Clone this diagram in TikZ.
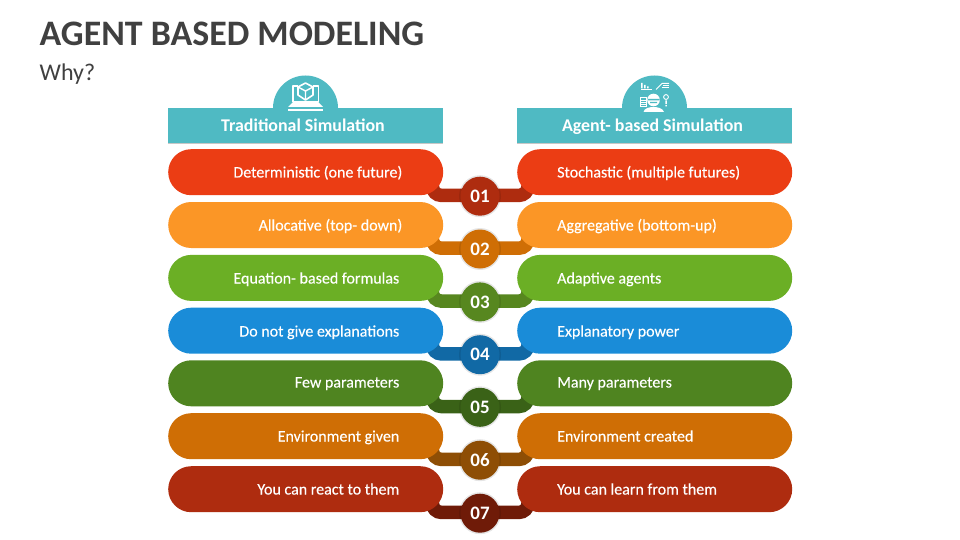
\documentclass[tikz,border=0pt]{standalone}
\usepackage{fontspec}
\setmainfont{Carlito}
\newfontfamily\medfont[FakeBold=0.25]{Carlito}
\usetikzlibrary{calc}
\pgfdeclarelayer{paper}
\pgfdeclarelayer{bands}
\pgfsetlayers{paper,bands,main}
\definecolor{teal1}{HTML}{4FBAC3}
\definecolor{ink}{HTML}{404040}
\definecolor{c1}{HTML}{EB3D14}\definecolor{d1}{HTML}{AE2C0F}
\definecolor{c2}{HTML}{FB9626}\definecolor{d2}{HTML}{CF6E05}
\definecolor{c3}{HTML}{6BAF25}\definecolor{d3}{HTML}{57871F}
\definecolor{c4}{HTML}{1A8CD8}\definecolor{d4}{HTML}{1169A5}
\definecolor{c5}{HTML}{4F8420}\definecolor{d5}{HTML}{3A6217}
\definecolor{c6}{HTML}{CF6E05}\definecolor{d6}{HTML}{8E4E05}
\definecolor{c7}{HTML}{AE2C0F}\definecolor{d7}{HTML}{6F1B08}
\tikzset{
  pill/.style={rounded corners=23pt,minimum width=275pt,minimum height=46pt,inner sep=0pt,anchor=north west},
  itemtext/.style={text=white,font=\medfont\fontsize{16pt}{18pt}\selectfont,inner sep=0pt},
  numdisc/.style={circle,minimum size=39pt,inner sep=0pt,text=white,font=\bfseries\fontsize{19pt}{20pt}\selectfont},
  band/.style={line width=13.5pt,line cap=butt},
  header/.style={fill=teal1,minimum width=275pt,minimum height=35pt,inner sep=0pt,anchor=north west},
  headtext/.style={anchor=base,text=white,inner sep=0pt,font=\bfseries\fontsize{17.9pt}{20pt}\selectfont},
  ico/.style={draw=white,line width=1.3pt,line join=round}
}
\begin{document}
\begin{tikzpicture}[x=1pt,y=-1pt]
\begin{pgfonlayer}{paper}
\path[fill=white,use as bounding box] (0,0) rectangle (960,540);
\end{pgfonlayer}
\node[anchor=base west,inner sep=0pt,text=ink,font=\bfseries\fontsize{35.85pt}{40pt}\selectfont] (title) at (39.5,46) {AGENT BASED MODELING};
\node[anchor=base west,inner sep=0pt,text=ink,font=\fontsize{24pt}{28pt}\selectfont] (sub) at (39.5,81) {Why?};
% header domes
\fill[teal1] (273,108) arc[start angle=180,end angle=360,radius=32.5] -- cycle;
\fill[teal1] (622,108) arc[start angle=180,end angle=360,radius=32.5] -- cycle;
% header shadows
\fill[black,opacity=.22] (168,143) rectangle (443,144.3);
\fill[black,opacity=.22] (517,143) rectangle (792,144.3);
\node[header] (hl) at (168,108) {};
\node[header] (hr) at (517,108) {};
\node[headtext] (hlt) at (303,131.5) {Traditional Simulation};
\node[headtext] (hrt) at (652.5,131.5) {Agent- based Simulation};
% left icon: laptop and cube
\draw[ico,line width=1.8pt] (298,86) -- (293,86) -- (293,102) -- (318.5,102) -- (318.5,86) -- (313,86);
\fill[white] (292,103) -- (319,103) -- (323,107) -- (288,107) -- cycle;
\fill[white] (288,109.3) rectangle (323,110.6);
\draw[ico,line width=1.6pt] (305.5,83) -- (313,87) -- (313,95) -- (305.5,100) -- (298,95) -- (298,87) -- cycle;
\draw[ico,line width=1.4pt] (298,87) -- (305.5,91) -- (313,87) (305.5,91) -- (305.5,100);
% right icon: analyst
\fill[white] (641,83) rectangle (642.5,88.5) (644,85) rectangle (645.5,88.5) (647,86.5) rectangle (648.5,88.5);
\fill[white] (640.5,88.7) rectangle (652,89.6);
\draw[white,line width=1pt] (656,89.5) -- (662,83.5) -- (669,83.5);
\draw[white,line width=1pt] (663,86) -- (669,86) (662,88) -- (669,88);
\draw[white,line width=1pt] (640.5,98) rectangle (646,106.5);
\draw[white,line width=.8pt] (641,100.5) -- (646,100.5) (641,102.5) -- (646,102.5) (641,104.5) -- (646,104.5);
\fill[white] (653.5,100) circle[radius=6.3];
\fill[teal1] (648,99) rectangle (659.5,100.4) (650,102) rectangle (657,103.2);
\fill[white] (643.5,112) .. controls (644,108) and (650,107) .. (653.5,107) .. controls (657,107) and (663,108) .. (664,112) -- cycle;
\draw[white,line width=.9pt] (666,97) circle[radius=2.4];
\fill[white] (665.4,100.5) rectangle (666.8,104) (665.4,105) rectangle (666.8,106.5);
% rows
\foreach \i/\y/\ty/\ltx/\lx/\rtx in {
 1/149/177.5/{Deterministic (one future)}/402.5/{Stochastic (multiple futures)},
 2/201.8/230.5/{Allocative (top- down)}/402.5/{Aggregative (bottom-up)},
 3/254.7/283.5/{Equation- based formulas}/399.5/{Adaptive agents},
 4/307.5/336.5/{Do not give explanations}/399.5/{Explanatory power},
 5/360.1/387.5/{Few parameters}/399.5/{Many parameters},
 6/413/441.5/{Environment given}/399.5/{Environment created},
 7/466/494.5/{You can react to them}/399.5/{You can learn from them}}{
  \node[pill,fill=c\i] (L\i) at (168,\y) {};
  \node[pill,fill=c\i] (R\i) at (517,\y) {};
  \node[itemtext,anchor=base east] (LT\i) at (\lx,\ty) {\ltx};
  \node[itemtext,anchor=base west] (RT\i) at (557,\ty) {\rtx};
  \fill[black,opacity=.10] (480,\y+47.2) circle[radius=21];
  \node[numdisc,fill=d\i] (N\i) at (480,\y+47.2) {0\i};
  \begin{pgfonlayer}{bands}
    \draw[band,draw=d\i] ([shift={(-11,-12)}]L\i.south east) -- ++(0,3) arc[start angle=180,end angle=90,radius=9] -- (N\i.center |- L\i.south);
    \draw[band,draw=d\i] ([shift={(11,-12)}]R\i.south west) -- ++(0,3) arc[start angle=0,end angle=90,radius=9] -- (N\i.center |- R\i.south);
  \end{pgfonlayer}
}
\end{tikzpicture}
\end{document}
